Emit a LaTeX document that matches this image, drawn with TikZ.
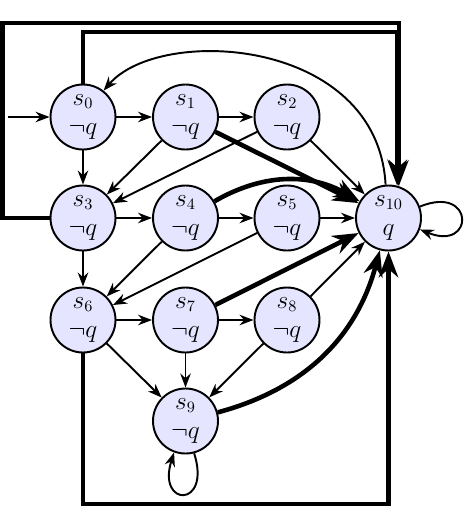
\documentclass[tikz,border=0pt]{standalone}
\usepackage{amsmath}
\usepackage{amssymb}
\usepackage{tikz}
\usepackage{xcolor}
\usetikzlibrary{arrows.meta}

\begin{document}
\begin{tikzpicture}[>=Stealth,
  state/.style={circle, draw, line width=1.1pt, fill=blue!10, minimum size=1.3cm,
    inner sep=0pt, align=center, font=\fontsize{13.5}{17}\selectfont},
  tr/.style={->, line width=1.1pt},
  heavy/.style={->, line width=2.6pt}]
\useasboundingbox (0,0) rectangle (9.48,-10.12);

% states
\node[state] (s0) at (1.66,-2.34) {$s_0$\\$\neg q$};
\node[state] (s1) at (3.71,-2.34) {$s_1$\\$\neg q$};
\node[state] (s2) at (5.74,-2.34) {$s_2$\\$\neg q$};
\node[state] (s3) at (1.66,-4.36) {$s_3$\\$\neg q$};
\node[state] (s4) at (3.71,-4.36) {$s_4$\\$\neg q$};
\node[state] (s5) at (5.74,-4.36) {$s_5$\\$\neg q$};
\node[state] (s10) at (7.77,-4.36) {$s_{10}$\\$q$};
\node[state] (s6) at (1.66,-6.40) {$s_6$\\$\neg q$};
\node[state] (s7) at (3.71,-6.40) {$s_7$\\$\neg q$};
\node[state] (s8) at (5.74,-6.40) {$s_8$\\$\neg q$};
\node[state] (s9) at (3.71,-8.42) {$s_9$\\$\neg q$};

% initial arrow
\coordinate (init) at (0.16,-2.34);
\draw[tr] (init) -- (s0);

% ordinary transitions
\foreach \a/\b in {s0/s1,s1/s2,s0/s3,s1/s3,s2/s3,s3/s4,s4/s5,s5/s10,s2/s10,
                   s3/s6,s4/s6,s5/s6,s6/s7,s7/s8,s8/s10,s6/s9,s7/s9,s8/s9}
  \draw[tr] (\a) -- (\b);

% back to s0 and self loops
\draw[tr] (s10.95) .. controls (7.55,-0.75) and (3.2,-0.5) .. (s0.52);
\draw[tr] (s10.20) .. controls +(1.1,0.45) and +(1.1,-0.45) .. (s10.-20);
\draw[tr] (s9.-75) .. controls +(0.35,-1.1) and +(-0.35,-1.1) .. (s9.-110);

% heavy transitions into s10
\draw[heavy] (s1) -- (s10);
\draw[heavy] (s7) -- (s10);
\draw[heavy] (s4) to[bend left=30] (s10);
\draw[heavy] (s9) to[bend right=30] (s10);
\draw[heavy] (s3.west) -| (0.05,-0.46) -| (s10.72);
\draw[heavy] (s0.north) -- ++(0,1.03) -| (s10.75);
\draw[heavy] (s6.south) -- ++(0,-3.01) -| (s10.south);
\end{tikzpicture}
\end{document}
